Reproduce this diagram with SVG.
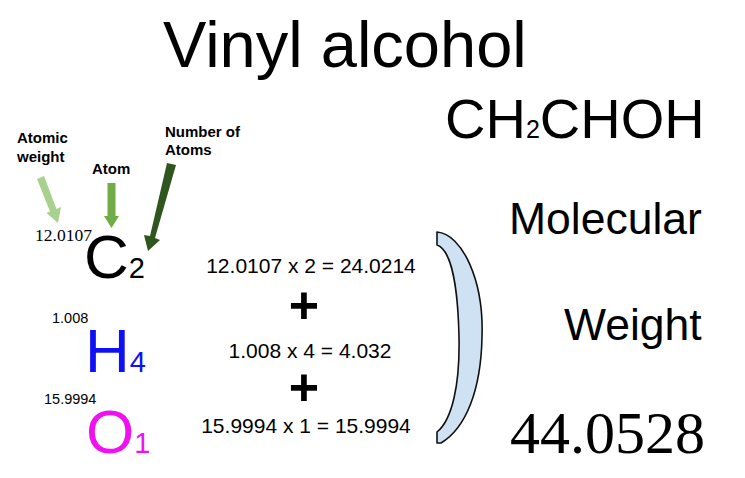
<svg xmlns="http://www.w3.org/2000/svg" width="745" height="478" viewBox="0 0 745 478">
<style>
.s{font-family:"Liberation Sans",Arial,sans-serif;fill:#000}
.r{font-family:"Liberation Serif","Times New Roman",serif;fill:#000}
.b{font-family:"Liberation Sans",Arial,sans-serif;font-weight:bold;font-size:15px;fill:#000}
.eq{font-family:"Liberation Sans",Arial,sans-serif;font-size:21px;fill:#000;text-anchor:middle}
.plus{font-family:"Liberation Sans",Arial,sans-serif;font-weight:bold;font-size:52px;fill:#000;text-anchor:middle}
.el{font-family:"Liberation Sans",Arial,sans-serif;font-size:62px}
.sub{font-size:29px}
.wt{font-family:"Liberation Sans",Arial,sans-serif;font-size:14.5px;fill:#000}
</style>
<rect width="745" height="478" fill="#fff"/>
<g id="title"><text class="s" x="163" y="67" font-size="65">Vinyl alcohol</text></g>
<g id="formula"><text class="s" x="445" y="138" font-size="56">CH<tspan font-size="25">2</tspan>CHOH</text></g>
<g id="mw-label">
<text class="s" x="509" y="234" font-size="44.5">Molecular</text>
<text class="s" x="564" y="340" font-size="44.5">Weight</text>
</g>
<g id="mw-value"><text class="r" x="510" y="453" font-size="60">44.0528</text></g>
<g id="legend">
<text class="b" x="17" y="143">Atomic</text>
<text class="b" x="17" y="162">weight</text>
<text class="b" x="92" y="174">Atom</text>
<text class="b" x="165" y="137">Number of</text>
<text class="b" x="165" y="155">Atoms</text>
</g>
<g id="connectors">
<polygon points="37,179 44,176 56.5,209 61,207 58,223 46.5,213 50,211.5" fill="#a9d18e"/>
<polygon points="107.5,183 115.5,183 115.5,216 119,216 111.5,228 104,216 107.5,216" fill="#70ad47"/>
<polygon points="167,163 176,165 155,238 160,240 148,251 144,235 150,236" fill="#2f561e"/>
</g>
<g id="carbon">
<text class="r" x="35" y="241" font-size="17.5">12.0107</text>
<text class="el" x="84" y="278" fill="#000">C<tspan class="sub">2</tspan></text>
</g>
<g id="hydrogen">
<text class="wt" x="52" y="323">1.008</text>
<text class="el" x="85" y="372" fill="#1010f5">H<tspan class="sub">4</tspan></text>
</g>
<g id="oxygen">
<text class="wt" x="44" y="404">15.9994</text>
<text class="el" x="86" y="453" fill="#f010f0">O<tspan class="sub">1</tspan></text>
</g>
<g id="calc">
<text class="eq" x="311" y="273">12.0107 x 2 = 24.0214</text>
<text class="plus" x="304" y="323">+</text>
<text class="eq" x="310" y="358">1.008 x 4 = 4.032</text>
<text class="plus" x="304" y="405">+</text>
<text class="eq" x="306" y="433">15.9994 x 1 = 15.9994</text>
</g>
<g id="bracket">
<path d="M437,232 C462,234 484,280 482,337 C481,390 466,428 441,443 L437,443 L437,432 C452,420 460,385 459,337 C458,290 452,250 437,245 Z" fill="#cfe2f3" stroke="#111" stroke-width="1.6" stroke-linejoin="round"/>
</g>
</svg>
